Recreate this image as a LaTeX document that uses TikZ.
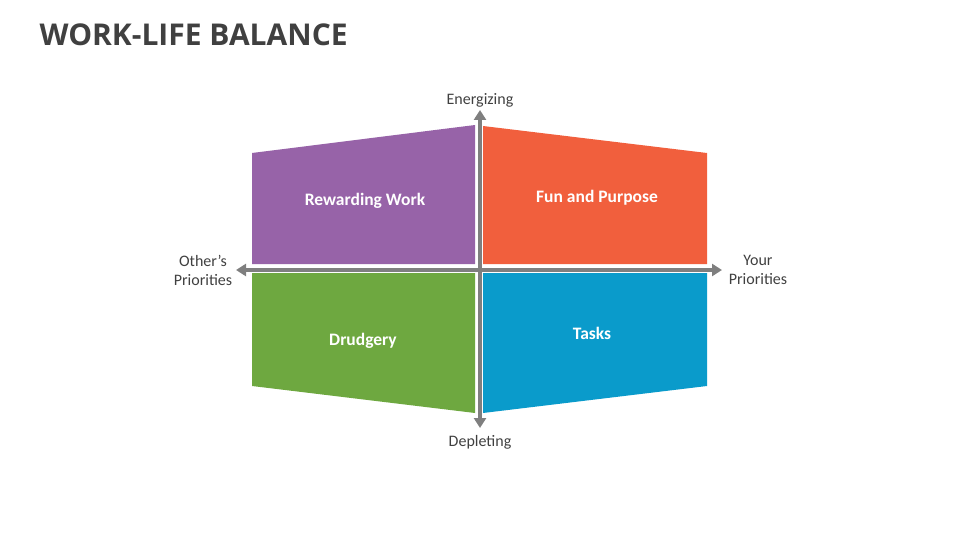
\documentclass[tikz,border=0pt]{standalone}
\usepackage{fontspec}
\setmainfont{Carlito}
\newfontfamily\titlefont{Open Sans}
\usetikzlibrary{arrows.meta}
\definecolor{cpurple}{HTML}{9763A8}
\definecolor{corange}{HTML}{F15F3D}
\definecolor{cgreen}{HTML}{6EA840}
\definecolor{cblue}{HTML}{0A9BCB}
\definecolor{caxis}{HTML}{7F7F7F}
\definecolor{ctext}{HTML}{404040}
\tikzset{
  quadlabel/.style={text=white, font=\fontsize{17.5}{20}\selectfont\bfseries},
  axislabel/.style={text=ctext, font=\fontsize{16}{19}\selectfont, align=center},
  axisline/.style={draw=caxis, line width=4pt, {Triangle[width=12pt,length=10pt]}-{Triangle[width=12pt,length=10pt]}},
}
\begin{document}
\begin{tikzpicture}[x=1pt,y=-1pt]
\useasboundingbox (0,0) rectangle (960,540);
\node[anchor=west, text=ctext, font=\titlefont\fontsize{30}{36}\selectfont\bfseries] (title) at (36,35) {WORK-LIFE BALANCE};
% quadrants
\fill[cpurple] (252,153) -- (475,125) -- (475,264) -- (252,264) -- cycle;
\fill[corange] (483,126) -- (707,153) -- (707,264) -- (483,264) -- cycle;
\fill[cgreen] (252,273) -- (475,273) -- (475,413) -- (252,386) -- cycle;
\fill[cblue] (483,273) -- (707,273) -- (707,386) -- (483,413) -- cycle;
\node[quadlabel] (rw) at (365,201) {Rewarding Work};
\node[quadlabel] (fp) at (597,198) {Fun and Purpose};
\node[quadlabel] (dr) at (363,341) {Drudgery};
\node[quadlabel] (ta) at (592,333) {Tasks};
% axes
\coordinate (top) at (480,110);
\coordinate (bot) at (480,428);
\coordinate (lft) at (236,270);
\coordinate (rgt) at (722,270);
\draw[axisline] (bot) -- (top);
\draw[axisline] (lft) -- (rgt);
\node[axislabel] (en) at (480,100.5) {Energizing};
\node[axislabel] (de) at (480,442.5) {Depleting};
\node[axislabel] (op) at (203,270) {Other’s\\Priorities};
\node[axislabel] (yp) at (758,270) {Your\\Priorities};
\end{tikzpicture}
\end{document}
